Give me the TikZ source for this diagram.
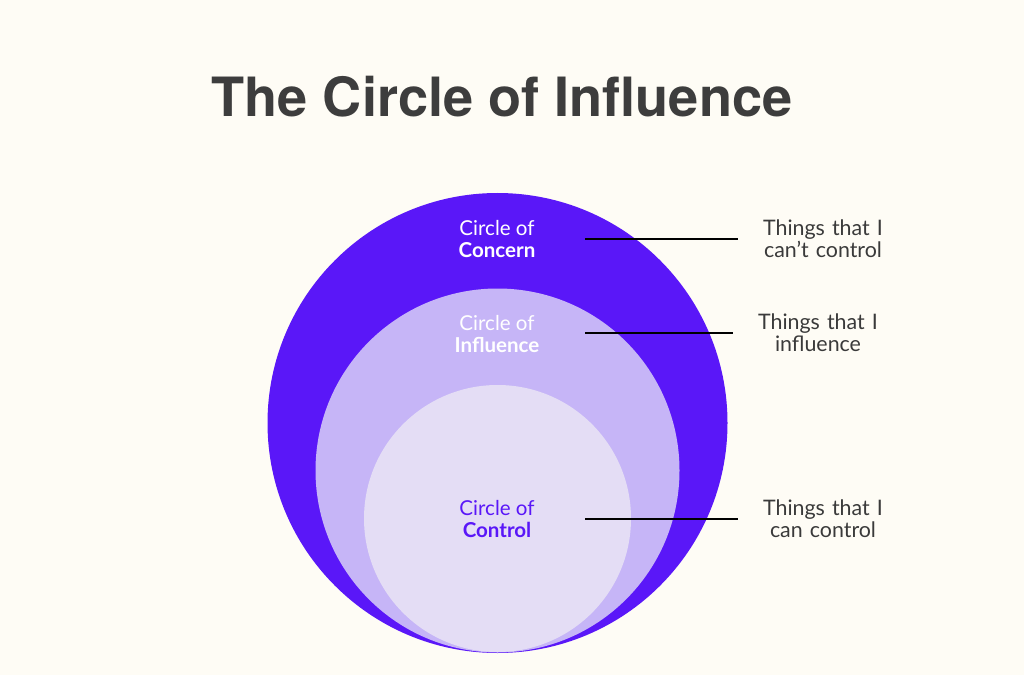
\documentclass[tikz,border=0pt]{standalone}
\usepackage{fontspec}
\setmainfont{Lato}
\newfontfamily\titlefont{TeX Gyre Heros}
\usetikzlibrary{positioning}

\definecolor{paper}{HTML}{FEFCF5}
\definecolor{titlegray}{HTML}{3D3D3D}
\definecolor{notegray}{HTML}{3A3A3A}
\definecolor{concern}{HTML}{5A17F8}
\definecolor{influence}{HTML}{C6B5F7}
\definecolor{control}{HTML}{E4DDF5}

\begin{document}
\begin{tikzpicture}[x=0.025cm, y=-0.025cm]
    \tikzstyle{tag} = [font=\fontsize{14.6}{15.2}\selectfont, align=center, inner sep=0pt]
    \tikzstyle{note} = [tag, font=\fontsize{15.2}{15.4}\selectfont, text=notegray, text width=3.4cm]
    \tikzstyle{lead} = [line width=1.1pt, draw=black, shorten >=0.42cm]

    \fill [paper] (0,0) rectangle (1024,675);
    \useasboundingbox (0,0) rectangle (1024,675);

    \node [text=titlegray, font=\titlefont\bfseries\fontsize{38.5}{44}\selectfont] (title) at (502,97) {The Circle of Influence};

    % nested circles
    \fill [concern] (497.5,423) circle [radius=230];
    \fill [influence] (497.5,470.5) circle [radius=182];
    \fill [control] (497.5,518.5) circle [radius=133.5];

    \node [tag, text=white] (lconcern) at (497,239) {Circle of\\\textbf{Concern}};
    \node [tag, text=white] (linfluence) at (497,334) {Circle of\\\textbf{Influence}};
    \node [tag, text=concern] (lcontrol) at (497,519) {Circle of\\\textbf{Control}};

    \node [note] (nconcern) at (823,239) {Things that I\\can't control};
    \node [note] (ninfluence) at (818,333) {Things that I\\influence};
    \node [note] (ncontrol) at (823,519) {Things that I\\can control};

    \coordinate (sconcern) at (585,239);
    \coordinate (sinfluence) at (585,333);
    \coordinate (scontrol) at (585,519);

    \draw [lead] (sconcern) -- (nconcern.west);
    \draw [lead] (sinfluence) -- (ninfluence.west);
    \draw [lead] (scontrol) -- (ncontrol.west);
\end{tikzpicture}
\end{document}
